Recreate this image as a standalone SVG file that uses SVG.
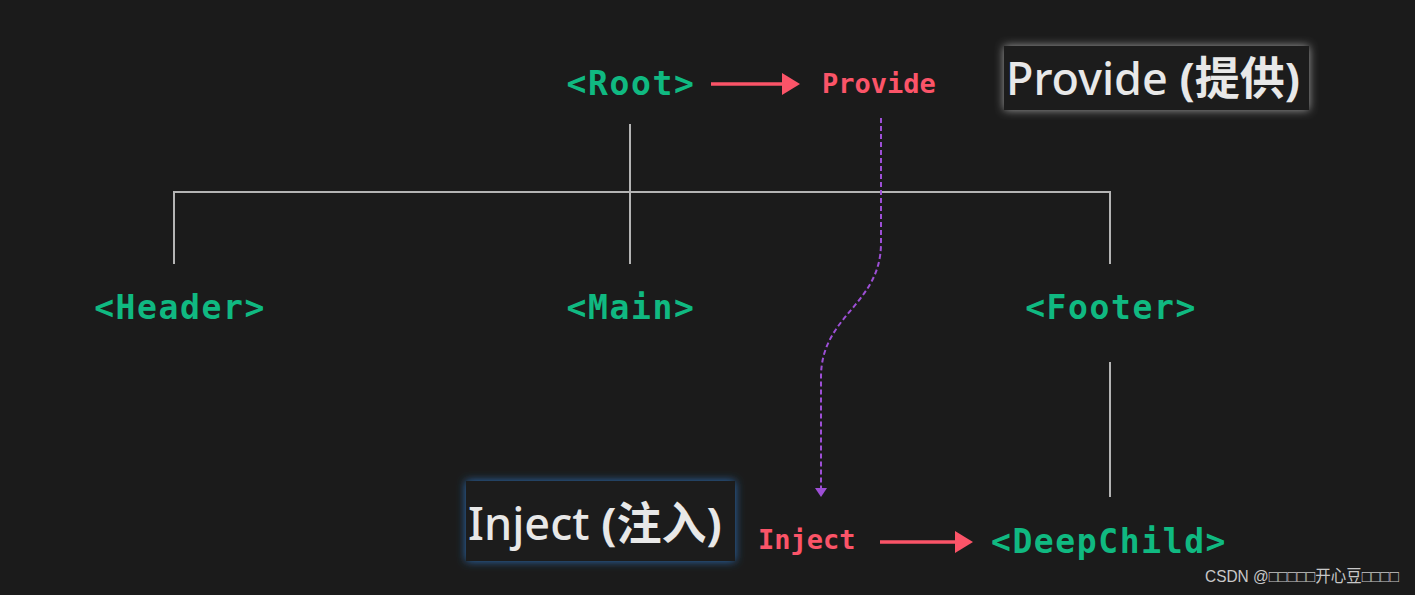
<svg xmlns="http://www.w3.org/2000/svg" width="1415" height="595" viewBox="0 0 1415 595">
<style>
.node{font-family:"DejaVu Sans Mono","Liberation Mono",monospace;font-weight:bold;font-size:33px;fill:#10b981;letter-spacing:1.6px;text-anchor:middle}
.kw{font-family:"DejaVu Sans Mono","Liberation Mono",monospace;font-weight:bold;font-size:27px;fill:#fb5468}
.tree{stroke:#b4b4b4;stroke-width:2;fill:none}
.red{stroke:#fb5468;stroke-width:3.5;fill:none}
.redhead{fill:#fb5468}
.label{font-family:"Noto Sans","Noto Sans CJK SC",sans-serif;font-size:45px;font-weight:500;fill:#e8e8e8}
.wm{font-family:"Liberation Sans","Noto Sans CJK SC",sans-serif;font-size:17px;fill:#c8c8c8}
</style>
<defs>
<filter id="shadowGray" x="-20%" y="-40%" width="140%" height="180%">
<feDropShadow dx="0" dy="0" stdDeviation="5" flood-color="#b0b0b0" flood-opacity="0.9"/>
</filter>
<filter id="shadowBlue" x="-20%" y="-40%" width="140%" height="180%">
<feDropShadow dx="0" dy="0" stdDeviation="5" flood-color="#2f78c8" flood-opacity="0.9"/>
</filter>
</defs>
<rect width="1415" height="595" fill="#1b1b1b"/>

<g id="connectors">
<path class="tree" d="M630,124 V192 M174,264 V192 H1110 V264 M630,192 V264 M1110,362 V497"/>
<path class="red" d="M711,84 H784"/>
<path class="redhead" d="M782,73 L800,84 L782,95 Z"/>
<path class="red" d="M880,542 H957"/>
<path class="redhead" d="M955,531 L973,542 L955,553 Z"/>
<path d="M881,118 V243 C881,305 821,315 821,377 V488" fill="none" stroke="#9d4fd6" stroke-width="2" stroke-dasharray="5,3"/>
<path d="M815,488 L827,488 L821,497 Z" fill="#9d4fd6"/>
</g>

<g id="root"><text class="node" x="631" y="95">&lt;Root&gt;</text></g>
<g id="provide"><text class="kw" x="822" y="93">Provide</text></g>
<g id="header"><text class="node" x="180" y="319">&lt;Header&gt;</text></g>
<g id="main"><text class="node" x="631" y="319">&lt;Main&gt;</text></g>
<g id="footer"><text class="node" x="1111" y="319">&lt;Footer&gt;</text></g>
<g id="inject"><text class="kw" x="758" y="549">Inject</text></g>
<g id="deepchild"><text class="node" x="1109" y="553">&lt;DeepChild&gt;</text></g>

<g id="provide-label">
<rect x="1004" y="46" width="305" height="64" fill="#1a1a1a" filter="url(#shadowGray)"/>
<text class="label" x="1006" y="95">Provide <tspan font-weight="bold">(提供)</tspan></text>
</g>
<g id="inject-label">
<rect x="466" y="481" width="269" height="80" fill="#1a1a1a" filter="url(#shadowBlue)"/>
<text class="label" x="468" y="540">Inject <tspan font-weight="bold">(注入)</tspan></text>
</g>

<g id="watermark"><text class="wm" x="1205" y="582" textLength="194" lengthAdjust="spacingAndGlyphs">CSDN @□□□□□开心豆□□□□</text></g>
</svg>
